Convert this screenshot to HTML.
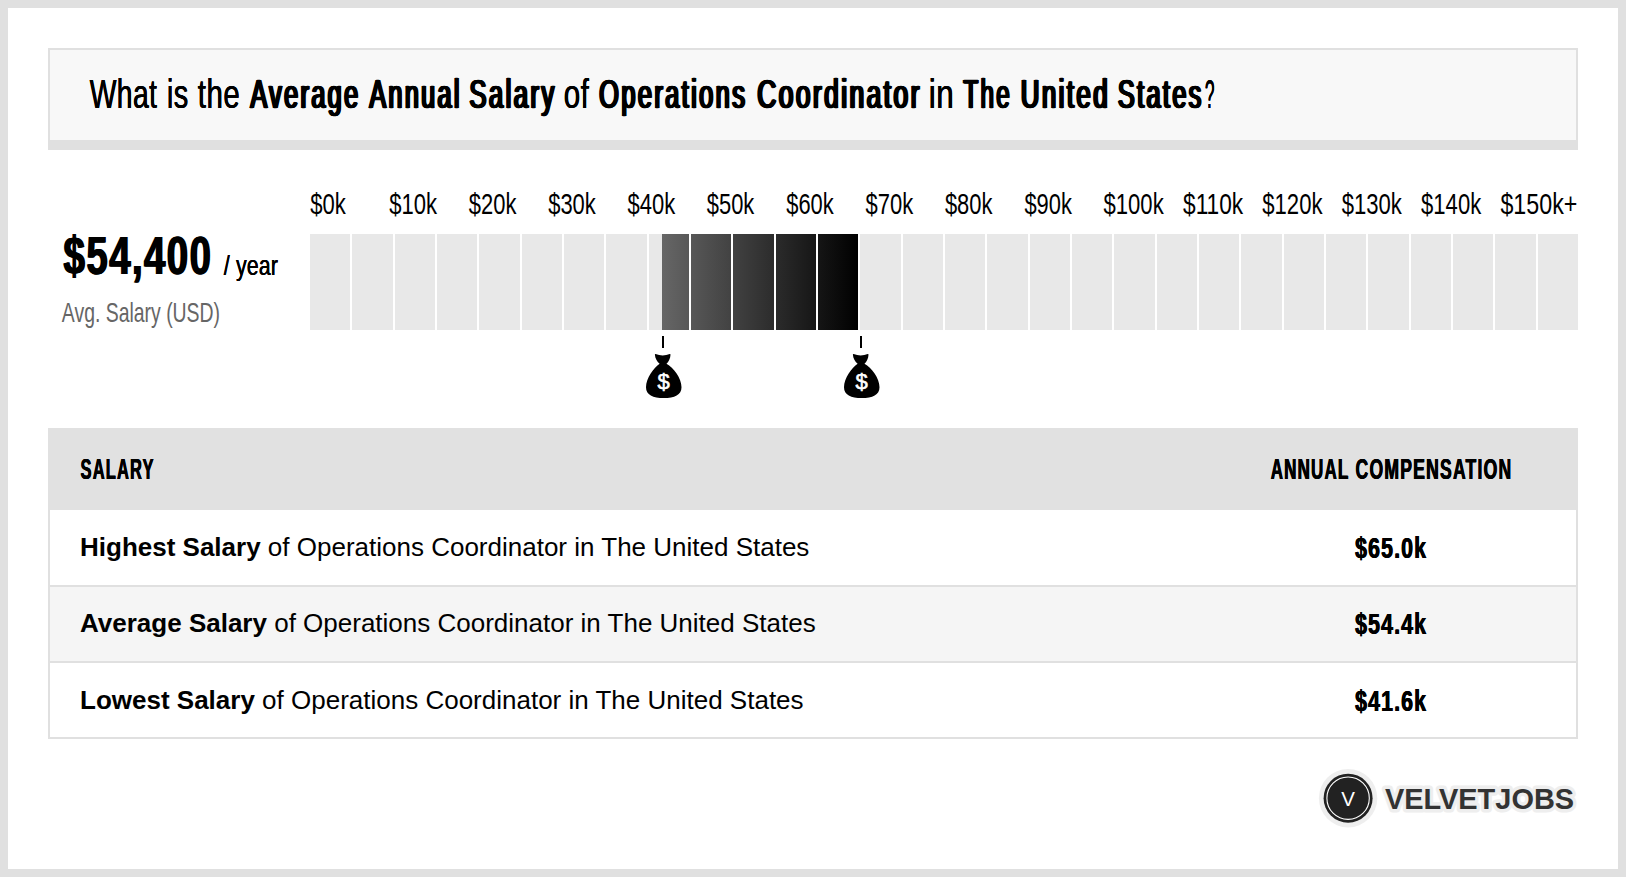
<!DOCTYPE html>
<html lang="en">
<head>
<meta charset="utf-8">
<title>Operations Coordinator Salary</title>
<style>
html,body{margin:0;padding:0;background:#fff;}
body{width:1626px;height:878px;position:relative;overflow:hidden;font-family:"Liberation Sans",sans-serif;color:#000;}
.frame{position:absolute;left:0;top:0;width:1610px;height:861px;border:8px solid #e0e0e0;background:#fff;}
.abs{position:absolute;}
.t{position:absolute;left:0;top:0;display:inline-block;white-space:nowrap;transform-origin:0 0;}
.titlebox{left:48px;top:48px;width:1526px;height:90px;background:#f8f8f8;border:2px solid #e0e0e0;border-bottom-width:10px;}
.bar{left:310px;top:234px;width:1268px;height:96px;background:#e8e8e8;overflow:hidden;}
.fill{left:351.66px;top:0;width:197.81px;height:96px;background:linear-gradient(90deg,#666 0%,#000 100%);}
.sep{top:0;width:2px;height:96px;background:#fff;}
.tick{width:2px;height:12px;top:336px;background:#000;}
.thead{left:48px;top:428px;width:1530px;height:82px;background:#e1e1e1;}
.tbody{left:48px;top:510px;width:1526px;height:227px;border:2px solid #e0e0e0;border-top:0;background:#fff;}
.row2{left:0;top:77px;width:1526px;height:74px;background:#f5f5f5;}
.hl{left:0;width:1526px;height:2px;background:#e0e0e0;}
.rt{position:absolute;left:80px;font-size:26px;line-height:30px;white-space:nowrap;color:#000;}
</style>
</head>
<body>
<div class="frame"></div>
<div class="abs titlebox"></div>
<div class="abs bar">
<div class="abs fill"></div>
<div class="abs sep" style="left:40.33px"></div>
<div class="abs sep" style="left:82.67px"></div>
<div class="abs sep" style="left:125.00px"></div>
<div class="abs sep" style="left:167.33px"></div>
<div class="abs sep" style="left:209.67px"></div>
<div class="abs sep" style="left:252.00px"></div>
<div class="abs sep" style="left:294.33px"></div>
<div class="abs sep" style="left:336.67px"></div>
<div class="abs sep" style="left:379.00px"></div>
<div class="abs sep" style="left:421.33px"></div>
<div class="abs sep" style="left:463.67px"></div>
<div class="abs sep" style="left:506.00px"></div>
<div class="abs sep" style="left:548.33px"></div>
<div class="abs sep" style="left:590.67px"></div>
<div class="abs sep" style="left:633.00px"></div>
<div class="abs sep" style="left:675.33px"></div>
<div class="abs sep" style="left:717.67px"></div>
<div class="abs sep" style="left:760.00px"></div>
<div class="abs sep" style="left:802.33px"></div>
<div class="abs sep" style="left:844.67px"></div>
<div class="abs sep" style="left:887.00px"></div>
<div class="abs sep" style="left:929.33px"></div>
<div class="abs sep" style="left:971.67px"></div>
<div class="abs sep" style="left:1014.00px"></div>
<div class="abs sep" style="left:1056.33px"></div>
<div class="abs sep" style="left:1098.67px"></div>
<div class="abs sep" style="left:1141.00px"></div>
<div class="abs sep" style="left:1183.33px"></div>
<div class="abs sep" style="left:1225.67px"></div>
</div>
<div class="abs tick" style="left:662px"></div>
<div class="abs tick" style="left:860px"></div>
<svg class="abs" style="left:646px;top:354px" width="36" height="44" viewBox="0 0 36 44"><path d="M8.9 0.7 Q8.8 0 9.6 0.1 Q16.6 3 23.8 0.1 Q24.6 0 24.5 0.7 C24.3 4.5 22.8 7.5 20.5 9.7 C27.5 13.5 35.5 24 35.5 33.2 C35.5 41 28.5 44 17.75 44 C7 44 0 41 0 33.2 C0 24 8 13.5 13.6 9.7 C11 7.5 9.2 4.5 8.9 0.7 Z" fill="#000"/><text x="17.7" y="35" text-anchor="middle" font-family="Liberation Sans, sans-serif" font-size="22" fill="#fff" stroke="#fff" stroke-width="0.6">$</text></svg>
<svg class="abs" style="left:843.9px;top:354px" width="36" height="44" viewBox="0 0 36 44"><path d="M8.9 0.7 Q8.8 0 9.6 0.1 Q16.6 3 23.8 0.1 Q24.6 0 24.5 0.7 C24.3 4.5 22.8 7.5 20.5 9.7 C27.5 13.5 35.5 24 35.5 33.2 C35.5 41 28.5 44 17.75 44 C7 44 0 41 0 33.2 C0 24 8 13.5 13.6 9.7 C11 7.5 9.2 4.5 8.9 0.7 Z" fill="#000"/><text x="17.7" y="35" text-anchor="middle" font-family="Liberation Sans, sans-serif" font-size="22" fill="#fff" stroke="#fff" stroke-width="0.6">$</text></svg>
<div class="abs thead"></div>
<div class="abs tbody">
<div class="abs row2"></div>
<div class="abs hl" style="top:75px"></div>
<div class="abs hl" style="top:151px"></div>
</div>
<div class="rt" style="top:532px"><b>Highest Salary</b> of Operations Coordinator in The United States</div>
<div class="rt" style="top:608px"><b>Average Salary</b> of Operations Coordinator in The United States</div>
<div class="rt" style="top:685px"><b>Lowest Salary</b> of Operations Coordinator in The United States</div>
<span class="t" style="font-size:40px;line-height:44px;transform:translate(89.71px,71.80px) scaleX(0.7068);letter-spacing:0.6px;text-shadow:0.3px 0 0 currentColor,-0.3px 0 0 currentColor;">What</span>
<span class="t" style="font-size:40px;line-height:44px;transform:translate(166.89px,71.80px) scaleX(0.7241);letter-spacing:0.6px;text-shadow:0.3px 0 0 currentColor,-0.3px 0 0 currentColor;">is</span>
<span class="t" style="font-size:40px;line-height:44px;transform:translate(197.84px,71.80px) scaleX(0.7383);letter-spacing:0.6px;text-shadow:0.3px 0 0 currentColor,-0.3px 0 0 currentColor;">the</span>
<span class="t" style="font-size:40px;line-height:44px;transform:translate(250.34px,71.80px) scaleX(0.6301);letter-spacing:3.8px;-webkit-text-stroke:0.7px currentColor;text-shadow:0.9px 0 0 currentColor,-0.9px 0 0 currentColor,1.8px 0 0 currentColor,-1.8px 0 0 currentColor;">Average</span>
<span class="t" style="font-size:40px;line-height:44px;transform:translate(369.35px,71.80px) scaleX(0.6274);letter-spacing:3.8px;-webkit-text-stroke:0.7px currentColor;text-shadow:0.9px 0 0 currentColor,-0.9px 0 0 currentColor,1.8px 0 0 currentColor,-1.8px 0 0 currentColor;">Annual</span>
<span class="t" style="font-size:40px;line-height:44px;transform:translate(469.32px,71.80px) scaleX(0.6419);letter-spacing:3.8px;-webkit-text-stroke:0.7px currentColor;text-shadow:0.9px 0 0 currentColor,-0.9px 0 0 currentColor,1.8px 0 0 currentColor,-1.8px 0 0 currentColor;">Salary</span>
<span class="t" style="font-size:40px;line-height:44px;transform:translate(563.81px,71.80px) scaleX(0.7367);letter-spacing:0.6px;text-shadow:0.3px 0 0 currentColor,-0.3px 0 0 currentColor;">of</span>
<span class="t" style="font-size:40px;line-height:44px;transform:translate(599.17px,71.80px) scaleX(0.6341);letter-spacing:3.8px;-webkit-text-stroke:0.7px currentColor;text-shadow:0.9px 0 0 currentColor,-0.9px 0 0 currentColor,1.8px 0 0 currentColor,-1.8px 0 0 currentColor;">Operations</span>
<span class="t" style="font-size:40px;line-height:44px;transform:translate(757.30px,71.80px) scaleX(0.6559);letter-spacing:3.8px;-webkit-text-stroke:0.7px currentColor;text-shadow:0.9px 0 0 currentColor,-0.9px 0 0 currentColor,1.8px 0 0 currentColor,-1.8px 0 0 currentColor;">Coordinator</span>
<span class="t" style="font-size:40px;line-height:44px;transform:translate(928.80px,71.80px) scaleX(0.7858);letter-spacing:0.6px;text-shadow:0.3px 0 0 currentColor,-0.3px 0 0 currentColor;">in</span>
<span class="t" style="font-size:40px;line-height:44px;transform:translate(963.45px,71.80px) scaleX(0.6041);letter-spacing:3.8px;-webkit-text-stroke:0.7px currentColor;text-shadow:0.9px 0 0 currentColor,-0.9px 0 0 currentColor,1.8px 0 0 currentColor,-1.8px 0 0 currentColor;">The</span>
<span class="t" style="font-size:40px;line-height:44px;transform:translate(1020.72px,71.80px) scaleX(0.6454);letter-spacing:3.8px;-webkit-text-stroke:0.7px currentColor;text-shadow:0.9px 0 0 currentColor,-0.9px 0 0 currentColor,1.8px 0 0 currentColor,-1.8px 0 0 currentColor;">United</span>
<span class="t" style="font-size:40px;line-height:44px;transform:translate(1117.89px,71.80px) scaleX(0.6302);letter-spacing:3.8px;-webkit-text-stroke:0.7px currentColor;text-shadow:0.9px 0 0 currentColor,-0.9px 0 0 currentColor,1.8px 0 0 currentColor,-1.8px 0 0 currentColor;">States</span>
<span class="t" style="font-size:40px;line-height:44px;transform:translate(1204.89px,71.80px) scaleX(0.4288);letter-spacing:0.6px;text-shadow:0.3px 0 0 currentColor,-0.3px 0 0 currentColor;">?</span>
<span class="t" style="font-size:53px;line-height:59px;transform:translate(63.59px,226.30px) scaleX(0.7239);font-weight:bold;letter-spacing:2px;text-shadow:1px 0 0 currentColor,-1px 0 0 currentColor;">$54,400</span>
<span class="t" style="font-size:27.5px;line-height:31px;transform:translate(223.82px,249.80px) scaleX(0.7693);letter-spacing:0.3px;text-shadow:0.15px 0 0 currentColor,-0.15px 0 0 currentColor;">/ year</span>
<span class="t" style="font-size:27.5px;line-height:31px;transform:translate(61.84px,297.00px) scaleX(0.7058);color:#666;">Avg. Salary (USD)</span>
<span class="t" style="font-size:29.5px;line-height:33px;transform:translate(310.25px,187.00px) scaleX(0.7469);">$0k</span>
<span class="t" style="font-size:29.5px;line-height:33px;transform:translate(389.31px,187.00px) scaleX(0.7473);">$10k</span>
<span class="t" style="font-size:29.5px;line-height:33px;transform:translate(468.85px,187.00px) scaleX(0.7427);">$20k</span>
<span class="t" style="font-size:29.5px;line-height:33px;transform:translate(548.24px,187.00px) scaleX(0.7427);">$30k</span>
<span class="t" style="font-size:29.5px;line-height:33px;transform:translate(627.52px,187.00px) scaleX(0.7454);">$40k</span>
<span class="t" style="font-size:29.5px;line-height:33px;transform:translate(706.81px,187.00px) scaleX(0.7425);">$50k</span>
<span class="t" style="font-size:29.5px;line-height:33px;transform:translate(786.20px,187.00px) scaleX(0.7426);">$60k</span>
<span class="t" style="font-size:29.5px;line-height:33px;transform:translate(865.52px,187.00px) scaleX(0.7447);">$70k</span>
<span class="t" style="font-size:29.5px;line-height:33px;transform:translate(944.92px,187.00px) scaleX(0.7430);">$80k</span>
<span class="t" style="font-size:29.5px;line-height:33px;transform:translate(1024.40px,187.00px) scaleX(0.7426);">$90k</span>
<span class="t" style="font-size:29.5px;line-height:33px;transform:translate(1103.53px,187.00px) scaleX(0.7484);">$100k</span>
<span class="t" style="font-size:29.5px;line-height:33px;transform:translate(1183.09px,187.00px) scaleX(0.7683);">$110k</span>
<span class="t" style="font-size:29.5px;line-height:33px;transform:translate(1262.28px,187.00px) scaleX(0.7495);">$120k</span>
<span class="t" style="font-size:29.5px;line-height:33px;transform:translate(1341.68px,187.00px) scaleX(0.7486);">$130k</span>
<span class="t" style="font-size:29.5px;line-height:33px;transform:translate(1421.09px,187.00px) scaleX(0.7474);">$140k</span>
<span class="t" style="font-size:29.5px;line-height:33px;transform:translate(1500.42px,187.00px) scaleX(0.7881);">$150k+</span>
<span class="t" style="font-size:29px;line-height:32px;transform:translate(80.51px,453.00px) scaleX(0.5697);font-weight:bold;letter-spacing:2px;text-shadow:0.5px 0 0 currentColor,-0.5px 0 0 currentColor;">SALARY</span>
<span class="t" style="font-size:29px;line-height:32px;transform:translate(1270.73px,453.00px) scaleX(0.5854);font-weight:bold;letter-spacing:2px;text-shadow:0.5px 0 0 currentColor,-0.5px 0 0 currentColor;">ANNUAL</span>
<span class="t" style="font-size:29px;line-height:32px;transform:translate(1355.55px,453.00px) scaleX(0.6063);font-weight:bold;letter-spacing:2px;text-shadow:0.5px 0 0 currentColor,-0.5px 0 0 currentColor;">COMPENSATION</span>
<span class="t" style="font-size:29px;line-height:32px;transform:translate(1355.07px,531.50px) scaleX(0.7344);font-weight:bold;letter-spacing:1.6px;text-shadow:0.5px 0 0 currentColor,-0.5px 0 0 currentColor;">$65.0k</span>
<span class="t" style="font-size:29px;line-height:32px;transform:translate(1355.07px,608.00px) scaleX(0.7344);font-weight:bold;letter-spacing:1.6px;text-shadow:0.5px 0 0 currentColor,-0.5px 0 0 currentColor;">$54.4k</span>
<span class="t" style="font-size:29px;line-height:32px;transform:translate(1355.07px,684.50px) scaleX(0.7344);font-weight:bold;letter-spacing:1.6px;text-shadow:0.5px 0 0 currentColor,-0.5px 0 0 currentColor;">$41.6k</span>
<svg class="abs" style="left:1310px;top:760px" width="300" height="80" viewBox="0 0 300 80"><circle cx="38.1" cy="38.2" r="29.2" fill="#eeeeee"/><circle cx="38.1" cy="38.2" r="24.5" fill="#222"/><circle cx="38.1" cy="38.2" r="21.2" fill="none" stroke="#fff" stroke-width="1.1"/><text x="38.1" y="46.2" text-anchor="middle" font-family="Liberation Sans, sans-serif" font-size="20.5" fill="#fff">V</text><text x="74.9" y="49.1" font-family="Liberation Sans, sans-serif" font-weight="bold" font-size="30" textLength="189.2" lengthAdjust="spacingAndGlyphs" fill="#333" stroke="#eeeeee" stroke-width="7" stroke-linejoin="round" paint-order="stroke">VELVETJOBS</text></svg>
</body>
</html>
